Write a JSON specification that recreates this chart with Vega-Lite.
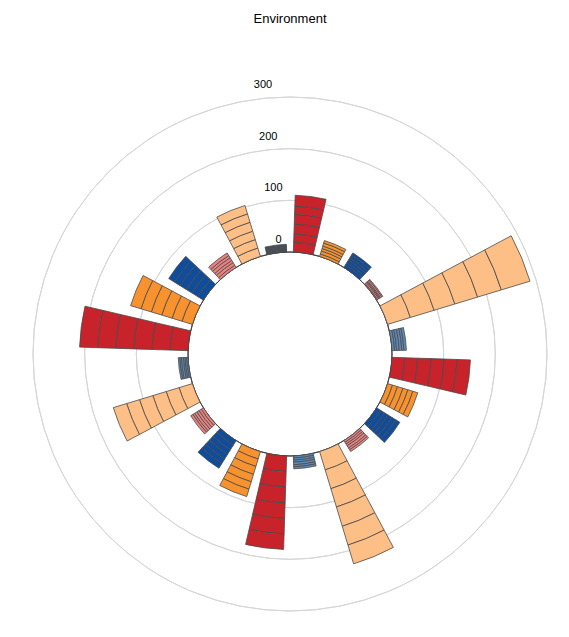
{
  "$schema": "https://vega.github.io/schema/vega-lite/v6.json",
  "width": 580,
  "height": 640,
  "autosize": "none",
  "padding": {"top": 34, "left": 0, "right": 0, "bottom": 0},
  "background": "white",
  "title": {"text": "Environment", "font": "Liberation Sans", "fontSize": 13, "fontWeight": "normal", "color": "black", "anchor": "middle", "offset": 8},
  "config": {"view": {"stroke": null}},
  "datasets": {
    "bars": [
      {"item": "01", "cat": "c1", "seg": [1,2,3,4,5,6], "v": [19,16,19,19,16,21]},
      {"item": "02", "cat": "c2", "seg": [1,2,3,4,5,6], "v": [5,6,5,5,6,5]},
      {"item": "03", "cat": "c3", "seg": [1,2,3,4,5,6], "v": [6,5,6,5,6,5]},
      {"item": "04", "cat": "c4", "seg": [1,2,3,4,5,6], "v": [2,3,2,2,3,2]},
      {"item": "05", "cat": "c5", "seg": [1,2,3,4,5,6], "v": [46,48,42,46,48,58]},
      {"item": "06", "cat": "c6", "seg": [1,2,3,4,5,6], "v": [5,4,5,5,4,5]},
      {"item": "07", "cat": "c1", "seg": [1,2,3,4,5,6], "v": [25,25,26,25,25,26]},
      {"item": "08", "cat": "c2", "seg": [1,2,3,4,5,6], "v": [10,10,11,10,10,10]},
      {"item": "09", "cat": "c3", "seg": [1,2,3,4,5,6], "v": [9,9,8,9,9,9]},
      {"item": "10", "cat": "c4", "seg": [1,2,3,4,5,6], "v": [4,4,4,5,4,4]},
      {"item": "11", "cat": "c5", "seg": [1,2,3,4,5,6], "v": [37,38,37,39,38,38]},
      {"item": "12", "cat": "c6", "seg": [1,2,3,4,5,6], "v": [4,4,4,5,4,4]},
      {"item": "13", "cat": "c1", "seg": [1,2,3,4,5,6], "v": [30,30,31,30,30,30]},
      {"item": "14", "cat": "c2", "seg": [1,2,3,4,5,6], "v": [15,15,16,15,15,15]},
      {"item": "15", "cat": "c3", "seg": [1,2,3,4,5,6], "v": [10,11,10,11,10,11]},
      {"item": "16", "cat": "c4", "seg": [1,2,3,4,5,6], "v": [5,5,5,5,4,5]},
      {"item": "17", "cat": "c5", "seg": [1,2,3,4,5,6], "v": [27,26,27,27,26,27]},
      {"item": "18", "cat": "c6", "seg": [1,2,3,4,5,6], "v": [3,3,3,4,3,3]},
      {"item": "19", "cat": "c1", "seg": [1,2,3,4,5,6], "v": [35,35,35,35,35,35]},
      {"item": "20", "cat": "c2", "seg": [1,2,3,4,5,6], "v": [21,20,21,21,21,21]},
      {"item": "21", "cat": "c3", "seg": [1,2,3,4,5,6], "v": [13,13,13,14,13,13]},
      {"item": "22", "cat": "c4", "seg": [1,2,3,4,5,6], "v": [5,6,5,6,5,6]},
      {"item": "23", "cat": "c5", "seg": [1,2,3,4,5,6], "v": [17,17,17,18,17,17]},
      {"item": "24", "cat": "c7", "seg": [1,2,3,4,5,6], "v": [2,3,2,3,2,3]}
    ],
    "ticks": [{"tick": 0}, {"tick": 100}, {"tick": 200}, {"tick": 300}]
  },
  "layer": [
    {
      "data": {"name": "ticks"},
      "mark": {"type": "arc", "theta": 0, "theta2": 6.2832, "fill": null, "strokeWidth": 1},
      "encoding": {
        "radius": {"field": "tick", "type": "quantitative", "stack": null, "scale": {"type": "linear", "domain": [0, 300], "range": [102, 257], "zero": true}},
        "radius2": {"field": "tick"},
        "stroke": {"condition": {"test": "datum.tick === 0", "value": "#444444"}, "value": "#d6d6d6"}
      }
    },
    {
      "data": {"name": "bars"},
      "transform": [{"flatten": ["seg", "v"]}],
      "mark": {"type": "arc", "stroke": "#4a4a4a", "strokeWidth": 0.8},
      "encoding": {
        "theta": {"field": "item", "type": "nominal", "sort": null, "scale": {"type": "band", "paddingInner": 0.25, "paddingOuter": 0.125}},
        "radius": {"field": "v", "type": "quantitative", "stack": "zero", "scale": {"type": "linear", "domain": [0, 300], "range": [102, 257], "zero": true}},
        "order": {"field": "seg", "type": "quantitative"},
        "detail": {"field": "seg", "type": "nominal"},
        "color": {"field": "cat", "type": "nominal", "legend": null, "scale": {"domain": ["c1","c2","c3","c4","c5","c6","c7"], "range": ["#c8222a", "#f7922f", "#0f4c9b", "#e8827e", "#fdbf86", "#5d89b8", "#3e5266"]}}
      }
    },
    {
      "data": {"name": "ticks"},
      "mark": {"type": "text", "font": "Liberation Sans", "fontSize": 11, "color": "black", "radiusOffset": 13, "baseline": "middle", "align": "center"},
      "encoding": {
        "theta": {"value": -0.1},
        "radius": {"field": "tick", "type": "quantitative", "scale": {"type": "linear", "domain": [0, 300], "range": [102, 257], "zero": true}},
        "text": {"field": "tick", "type": "quantitative"}
      }
    }
  ]
}
